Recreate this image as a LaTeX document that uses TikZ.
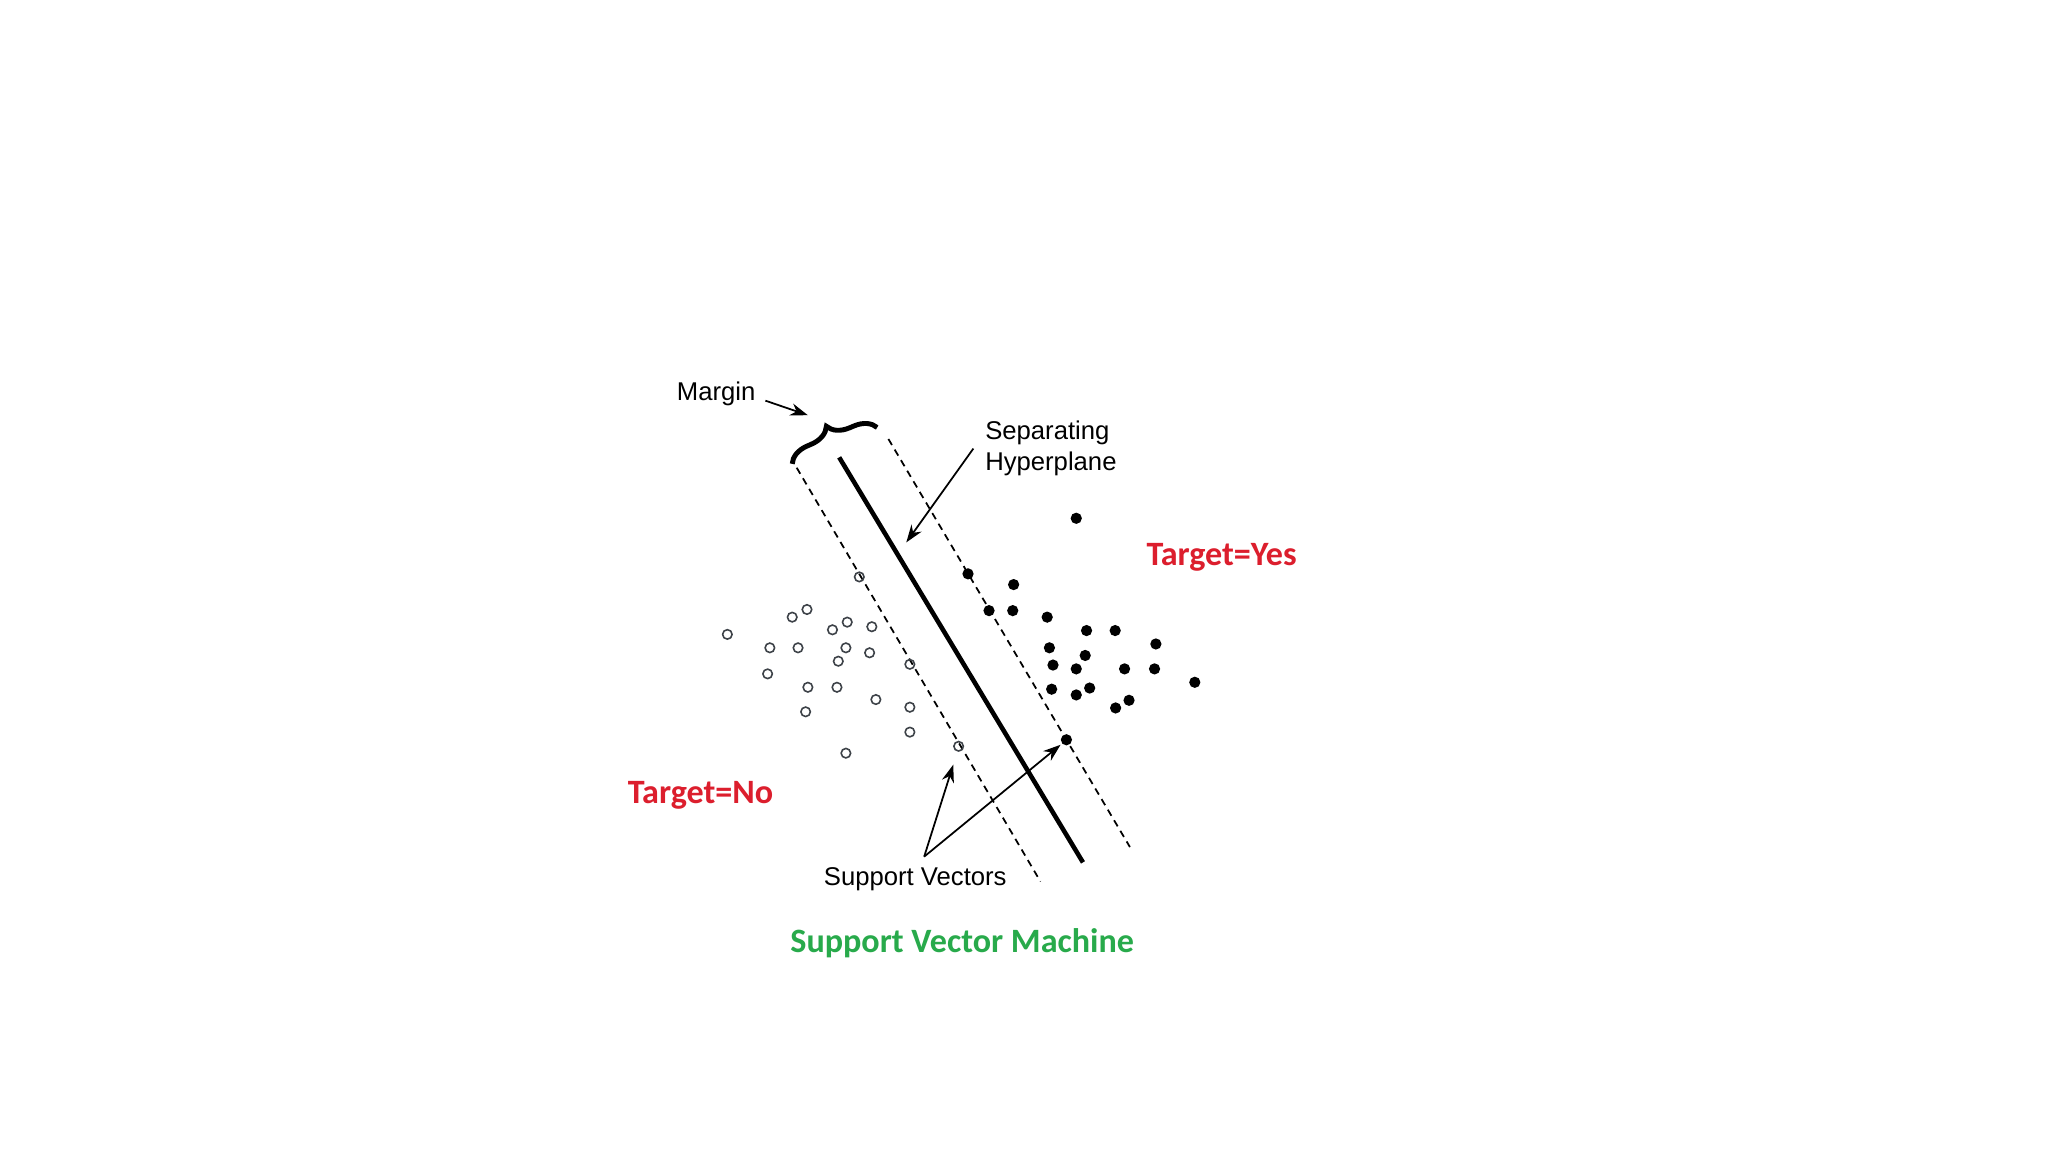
\documentclass[tikz,border=0pt]{standalone}
\usepackage{fontspec}
\setmainfont{Liberation Sans}
\newfontfamily\calib{Carlito}
\usetikzlibrary{decorations.pathreplacing,arrows.meta}
\definecolor{tred}{RGB}{220,30,45}
\definecolor{tgreen}{RGB}{40,170,75}
\begin{document}
\begin{tikzpicture}[x=0.01cm,y=-0.01cm,
  lab/.style={font=\fontsize{7.3}{8.8}\selectfont,inner sep=0pt,align=left},
  big/.style={font=\calib\bfseries\fontsize{9.7}{11}\selectfont,inner sep=0pt},
  arr/.style={-{Stealth[length=5pt,width=3.5pt]},line width=0.5pt},
  opn/.style={circle,draw=black!70!cyan!60!black,line width=0.45pt,minimum size=2.7pt,inner sep=0pt},
  fil/.style={circle,fill=black,minimum size=3.2pt,inner sep=0pt}]
\fill[white] (0,0) rectangle (2048,1152);
\path[use as bounding box] (0,0) rectangle (2048,1152);
\begin{scope}[shift={(620,370)},x=0.004464cm,y=-0.00383cm]
\coordinate (l1) at (395,255); \coordinate (l2) at (940,1335);
\coordinate (r1) at (600,180); \coordinate (r2) at (1140,1245);
\coordinate (s1) at (490,228); \coordinate (s2) at (1035,1285);
\draw[dashed,dash pattern=on 2pt off 1.5pt,line width=0.5pt] (l1) -- (l2);
\draw[dashed,dash pattern=on 2pt off 1.5pt,line width=0.5pt] (r1) -- (r2);
\draw[line width=1.3pt] (s1) -- (s2);
\draw[line width=1.4pt,decorate,decoration={brace,amplitude=6pt}] (385,245) -- (575,150);
\node[lab] (margin) at (215,62) {Margin};
\coordinate (mt) at (420,118);
\draw[arr] (325,80) -- (mt);
\node[lab,anchor=west] (sep) at (815,205) {Separating\\Hyperplane};
\coordinate (st) at (640,450);
\draw[arr] (790,205) -- (st);
\node[lab] (sv) at (660,1330) {Support Vectors};
\coordinate (sva) at (680,1270);
\foreach \p in {(535,540),(385,645),(418,625),(240,690),(335,725),(398,725),(475,678),(508,658),(563,670),(505,725),(558,738),(488,760),(648,768),(330,793),(420,828),(485,828),(572,860),(648,880),(415,892),(648,945),(505,1000)}
  \node[opn] at \p {};
\node[opn] (svn) at (757,982) {};
\foreach \p in {(1020,387),(778,532),(880,560),(825,628),(878,628),(955,645),(1043,680),(1107,680),(1198,715),(960,725),(1040,745),(968,770),(1020,780),(1128,780),(1195,780),(1285,815),(965,833),(1020,848),(1050,830),(1108,882),(1138,862)}
  \node[fil] at \p {};
\node[fil] (svy) at (998,965) {};
\draw[arr] (sva) -- (745,1030);
\draw[arr] (sva) -- (985,978);
\node[big,text=tred] (yes) at (1345,488) {Target=Yes};
\node[big,text=tred] (no) at (180,1110) {Target=No};
\node[big,text=tgreen] (svm) at (765,1495) {Support Vector Machine};
\end{scope}
\end{tikzpicture}
\end{document}
